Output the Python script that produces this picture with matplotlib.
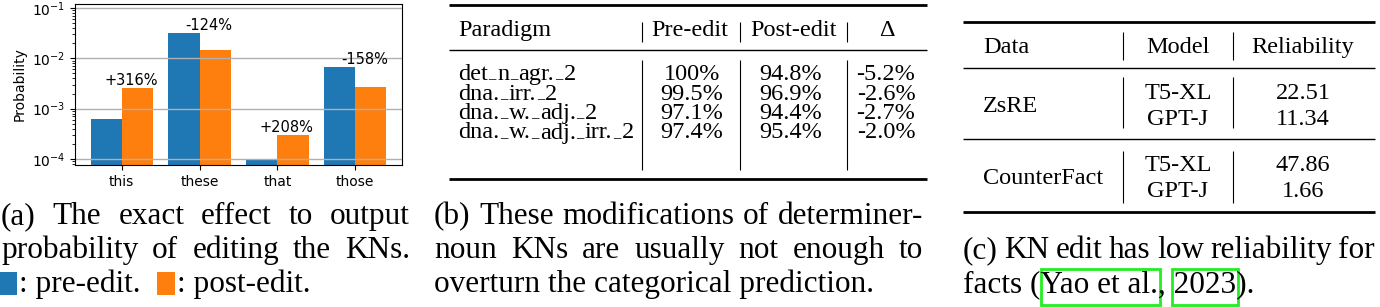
import matplotlib
matplotlib.use("Agg")
import matplotlib.pyplot as plt
from matplotlib.patches import Rectangle
import numpy as np

# ---------------- data ----------------
words = ["this", "these", "that", "those"]
pre_edit = [6.2e-4, 3.25e-2, 0.98e-4, 6.8e-3]
post_edit = [2.6e-3, 1.46e-2, 3.0e-4, 2.7e-3]
change_labels = ["+316%", "-124%", "+208%", "-158%"]

table_b_header = ["Paradigm", "Pre-edit", "Post-edit", "Δ"]
paradigms = ["det_n_agr._2", "dna._irr._2", "dna._w._adj._2", "dna._w._adj._irr._2"]
pre_acc = ["100%", "99.5%", "97.1%", "97.4%"]
post_acc = ["94.8%", "96.9%", "94.4%", "95.4%"]
delta = ["-5.2%", "-2.6%", "-2.7%", "-2.0%"]

table_c_header = ["Data", "Model", "Reliability"]
datasets = ["ZsRE", "CounterFact"]
models = [["T5-XL", "GPT-J"], ["T5-XL", "GPT-J"]]
reliability = [["22.51", "11.34"], ["47.86", "1.66"]]

BLUE = "#1f77b4"
ORANGE = "#ff7f0e"
SERIF = "Liberation Serif"
W, H = 1380, 307
TS = 17.5   # table font size
CS = 22.5   # caption font size

fig = plt.figure(figsize=(W / 100, H / 100), dpi=100)
ov = fig.add_axes([0, 0, 1, 1])
ov.set_xlim(0, W)
ov.set_ylim(H, 0)
ov.axis("off")
renderer = fig.canvas.get_renderer()

# ---------------- (a) bar chart ----------------
ax = fig.add_axes([75 / W, 1 - 165 / H, 327 / W, 161 / H])
x = np.arange(len(words))
bw = 0.4
ax.bar(x - bw / 2, pre_edit, bw, color=BLUE)
ax.bar(x + bw / 2, post_edit, bw, color=ORANGE)
ax.set_yscale("log")
ax.set_ylim(10 ** -4.12, 10 ** -0.92)
ax.set_xlim(-0.6, 3.6)
ax.yaxis.grid(True, which="major", color="#b0b0b0", lw=1)
ax.set_xticks(x, words)
ax.tick_params(labelsize=10)
ax.set_ylabel("Probability", fontsize=10)
for xi, a, b, lab in zip(x, pre_edit, post_edit, change_labels):
    ax.text(xi + 0.12, max(a, b), lab, ha="center", va="bottom", fontsize=10.5)


# ---------------- helpers ----------------
def hline(x0, x1, y, lw):
    ov.plot([x0, x1], [y, y], color="black", lw=lw, solid_capstyle="butt")


def vline(x, y0, y1, lw=0.8):
    ov.plot([x, x], [y0, y1], color="black", lw=lw, solid_capstyle="butt")


def txt(x, y, s, size, ha="left"):
    return ov.text(x, y, s, fontsize=size, family=SERIF, ha=ha, va="baseline")


def width(s, size):
    t = ov.text(0, 0, s, fontsize=size, family=SERIF)
    w = t.get_window_extent(renderer).width
    t.remove()
    return w


def justify(ws, x0, x1, y, size):
    widths = [width(w, size) for w in ws]
    gap = (x1 - x0 - sum(widths)) / (len(ws) - 1)
    xx = x0
    for w, wd in zip(ws, widths):
        txt(xx, y, w, size)
        xx += wd + gap


def latex_name(x0, y, s, size):
    """Text with short LaTeX-style underscores."""
    em = size * 100 / 72
    pieces = []
    for i, part in enumerate(s.split("_")):
        if i:
            pieces.append("_")
        if part:
            pieces.append(part)
    xx = x0
    for p in pieces:
        if p == "_":
            ov.text(xx + 0.02 * em, y - 0.07 * em, "_", fontsize=size * 0.6,
                    family=SERIF, ha="left", va="baseline")
            xx += 0.37 * em
        else:
            txt(xx, y, p, size)
            xx += width(p, size) + 0.01 * em


# ---------------- (b) table ----------------
hline(449, 927, 4.5, 2.0)
hline(449, 927, 50, 1.0)
hline(449, 927, 178.5, 2.0)
for vx in (642, 740, 847):
    vline(vx, 22, 42)
    vline(vx, 60, 170)
txt(458, 36, table_b_header[0], TS)
txt(690, 36, table_b_header[1], TS, ha="center")
txt(794, 36, table_b_header[2], TS, ha="center")
txt(887, 36, table_b_header[3], TS, ha="center")
row_y = [80, 99.5, 119, 138.5]
for yy, p, a, b, d in zip(row_y, paradigms, pre_acc, post_acc, delta):
    latex_name(458, yy, p, TS)
    txt(692, yy, a, TS, ha="center")
    txt(791, yy, b, TS, ha="center")
    txt(886, yy, d, TS, ha="center")

# ---------------- (c) table ----------------
hline(963, 1375, 22, 2.0)
hline(963, 1375, 68, 1.0)
hline(963, 1375, 139, 1.0)
hline(963, 1375, 212, 2.0)
for vx in (1123, 1233):
    vline(vx, 32, 60)
    vline(vx, 77, 128)
    vline(vx, 151, 203)
txt(983, 53, table_c_header[0], TS)
txt(1178, 53, table_c_header[1], TS, ha="center")
txt(1303, 53, table_c_header[2], TS, ha="center")
group_y = [(112, [99, 125]), (184, [171, 197])]
for ds, (gy, rys), ms, rs in zip(datasets, group_y, models, reliability):
    txt(983, gy, ds, TS)
    for ry, m, r in zip(rys, ms, rs):
        txt(1178, ry, m, TS, ha="center")
        txt(1303, ry, r, TS, ha="center")

# ---------------- captions ----------------
L1, L2, L3 = 224, 258, 292
justify(["(a)", "The", "exact", "effect", "to", "output"], 1, 410, L1, CS)
justify(["probability", "of", "editing", "the", "KNs."], 1, 410, L2, CS)
ov.add_patch(Rectangle((-1, 272), 18, 23, color=BLUE, lw=0))
txt(19, L3, ": pre-edit.", CS)
ov.add_patch(Rectangle((157, 272), 18, 23, color=ORANGE, lw=0))
txt(177, L3, ": post-edit.", CS)

justify(["(b)", "These", "modifications", "of", "determiner-"], 434, 923, L1, CS)
justify(["noun", "KNs", "are", "usually", "not", "enough", "to"], 434, 923, L2, CS)
txt(434, L3, "overturn the categorical prediction.", CS)

justify(["(c)", "KN", "edit", "has", "low", "reliability", "for"], 963, 1375, L2, CS)
line = "facts (Yao et al., 2023)."
txt(963, L3, line, CS)
GREEN = "#22ee22"
b1l = 963 + width("facts (", CS) + 1
b1r = 963 + width("facts (Yao et al.", CS) + 2
b2l = 963 + width("facts (Yao et al., 2", CS) - width("2", CS) - 2
b2r = 963 + width("facts (Yao et al., 2023", CS) + 2
for l, r in ((b1l, b1r), (b2l, b2r)):
    ov.add_patch(Rectangle((l, L3 - 23), r - l, 36, fill=False, edgecolor=GREEN, lw=2))

fig.savefig("out.png", dpi=100)
